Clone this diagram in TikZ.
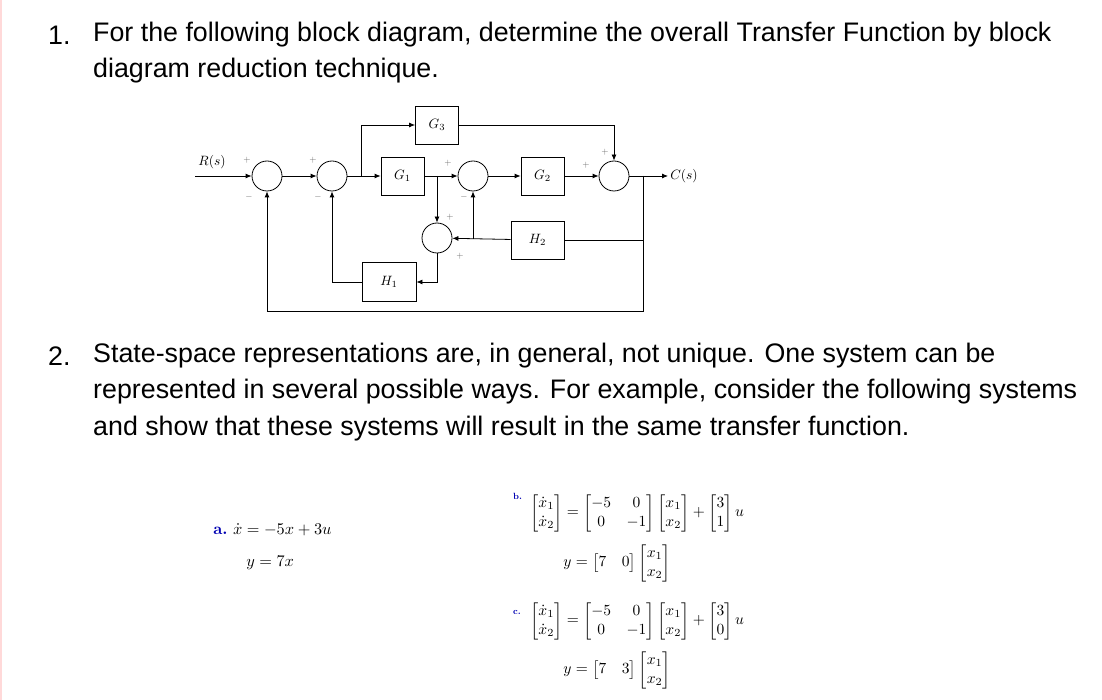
\documentclass[tikz,border=0pt]{standalone}
\usepackage{amsmath}
\usepackage{fontspec}
\newfontfamily\headfont{Liberation Sans}
\usetikzlibrary{arrows.meta}
\begin{document}
\begin{tikzpicture}[x=1pt,y=-1pt,
  blk/.style={draw,thick,inner sep=0pt},
  bl/.style={scale=1.35,transform shape,inner sep=0pt},
  sumc/.style={draw,thick,circle,minimum size=30pt,inner sep=0pt},
  sig/.style={font=\fontsize{9}{9}\selectfont,text=gray!80!black,inner sep=0pt},
  ar/.style={thick,-{Latex[length=6pt,width=5pt]}},
  ln/.style={thick},
  head/.style={anchor=west,inner sep=0pt,font=\headfont\fontsize{26.8}{26.8}\selectfont},
  eq/.style={anchor=west,inner sep=0pt,scale=1.55,transform shape}]
\useasboundingbox (0,0) rectangle (1102,700);
\fill[pink!60] (0,0) rectangle (1.5,700);
% headings
\node[head] (n1) at (48,35) {1.};
\node[head] (t1a) at (93,35) {For the following block diagram, determine the overall Transfer Function by block};
\node[head] (t1b) at (93,71) {diagram reduction technique.};
\node[head] (n2) at (48,356) {2.};
\node[head] (t2a) at (93,356) {State-space representations are, in general, not unique. One system can be};
\node[head] (t2b) at (93,392) {represented in several possible ways. For example, consider the following systems};
\node[head] (t2c) at (93,429) {and show that these systems will result in the same transfer function.};
% block diagram
\node[sumc] (s1) at (267,176) {};
\node[sumc] (s2) at (332,176) {};
\node[sumc] (s3) at (473,176) {};
\node[sumc] (s4) at (614,176) {};
\node[sumc] (s5) at (437,238) {};
\node[blk,minimum width=43pt,minimum height=38pt] (g3) at (437,125) {};
\node[blk,minimum width=43pt,minimum height=38pt] (g1) at (402.5,176) {};
\node[blk,minimum width=43pt,minimum height=38pt] (g2) at (542.5,176) {};
\node[blk,minimum width=53pt,minimum height=38pt] (h2) at (537.5,240) {};
\node[blk,minimum width=54pt,minimum height=39pt] (h1) at (389,282) {};
\node[bl] (tg3) at (g3) {$G_3$};
\node[bl] (tg1) at (g1) {$G_1$};
\node[bl] (tg2) at (g2) {$G_2$};
\node[bl] (th2) at (h2) {$H_2$};
\node[bl] (th1) at (h1) {$H_1$};
\coordinate (in) at (195,176);
\coordinate (b1) at (361,176);
\coordinate (b2) at (437,176);
\coordinate (b3) at (643,176);
\coordinate (out) at (668,176);
\coordinate (b4) at (473,239);
\node[bl,anchor=west] (cs) at (670,176) {$C(s)$};
\node[bl] (rs) at (212,162) {$R(s)$};
\draw[ar] (in) -- (s1);
\draw[ar] (s1) -- (s2);
\draw[ar] (s2) -- (g1);
\draw[ar] (b1) |- (g3);
\draw[ar] (g3) -| (s4);
\draw[ar] (g1) -- (s3);
\draw[ar] (b2) -- (s5);
\draw[ar] (s3) -- (g2);
\draw[ar] (g2) -- (s4);
\draw[ar] (s4) -- (out);
\draw[ln] (b3) |- (h2);
\draw[ar] (h2) -- (s5);
\draw[ar] (b4) -- (s3);
\draw[ar] (s5) |- (h1);
\draw[ar] (h1) -| (s2);
\draw[ar] (b3) |- (267,311) -- (s1);
% signs
\node[sig] (p1) at (247,160) {$+$};
\node[sig] (m1) at (249,197) {$-$};
\node[sig] (p2) at (313,160) {$+$};
\node[sig] (m2) at (318,197) {$-$};
\node[sig] (p3) at (448,163) {$+$};
\node[sig] (m3) at (464,197) {$-$};
\node[sig] (p5) at (450,217) {$+$};
\node[sig] (p6) at (460,256) {$+$};
\node[sig] (p7) at (586,165) {$+$};
\node[sig] (p8) at (605,152) {$+$};
% part a
\node[eq,scale=1.05] (ea) at (213,530) {\textcolor{blue!70!black}{\textbf{a.}}\ $\dot x=-5x+3u$};
\node[eq,scale=1.05] (ya) at (246,563) {$y=7x$};
% part b
\node[anchor=west,inner sep=0pt] (lb) at (513,496) {\textcolor{blue!70!black}{\textbf{\small b.}}};
\node[eq] (eb) at (530,513) {$\begin{bmatrix}\dot x_1\\ \dot x_2\end{bmatrix}=\begin{bmatrix}-5&0\\0&-1\end{bmatrix}\begin{bmatrix}x_1\\x_2\end{bmatrix}+\begin{bmatrix}3\\1\end{bmatrix}u$};
\node[eq] (yb) at (563,563) {$y=\begin{bmatrix}7&0\end{bmatrix}\begin{bmatrix}x_1\\x_2\end{bmatrix}$};
% part c
\node[anchor=west,inner sep=0pt] (lc) at (513,612) {\textcolor{blue!70!black}{\textbf{\small c.}}};
\node[eq] (ec) at (530,621) {$\begin{bmatrix}\dot x_1\\ \dot x_2\end{bmatrix}=\begin{bmatrix}-5&0\\0&-1\end{bmatrix}\begin{bmatrix}x_1\\x_2\end{bmatrix}+\begin{bmatrix}3\\0\end{bmatrix}u$};
\node[eq] (yc) at (563,670) {$y=\begin{bmatrix}7&3\end{bmatrix}\begin{bmatrix}x_1\\x_2\end{bmatrix}$};
\end{tikzpicture}
\end{document}
